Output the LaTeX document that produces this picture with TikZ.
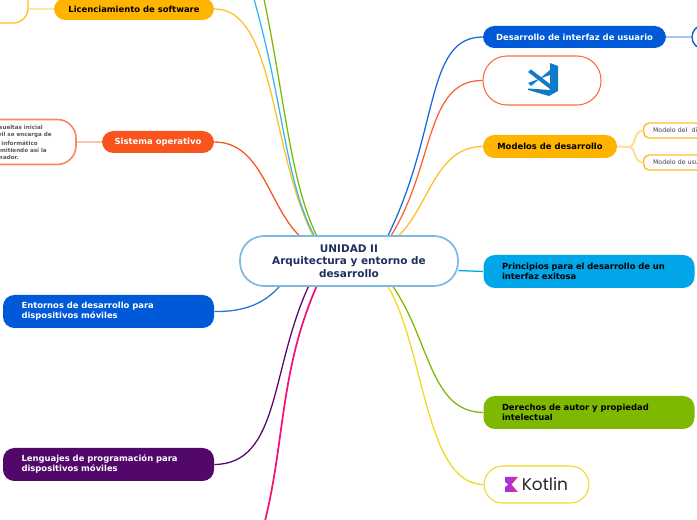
\documentclass[tikz,border=0pt]{standalone}
\usepackage{fontspec}
\setmainfont{DejaVu Sans}
\newfontfamily\kotfont{Poppins}
\definecolor{azul}{HTML}{0059D6}
\definecolor{naranja}{HTML}{FFB400}
\definecolor{rojizo}{HTML}{F9531E}
\definecolor{celeste}{HTML}{00A6E8}
\definecolor{verde}{HTML}{7FB800}
\definecolor{morado}{HTML}{52086B}
\definecolor{rosa}{HTML}{F5107A}
\definecolor{amarillo}{HTML}{F2D91E}
\definecolor{borde}{HTML}{7DB9E3}
\definecolor{tinta}{HTML}{1F2F5F}
\definecolor{vsazul}{HTML}{0E7AC8}
\definecolor{kotvio}{HTML}{9B30E8}
\definecolor{kotros}{HTML}{E8308C}
\tikzset{
 rama/.style={rounded corners=8.5pt, inner sep=0pt, font=\bfseries\fontsize{6.32}{7.5}\selectfont},
 ramados/.style={rama, text width=174*.75pt, inner xsep=18.5*.75pt, minimum height=33*.75pt, align=left},
 hoja/.style={rounded corners=4pt, draw=naranja!85, line width=1.1pt, fill=white, inner sep=0pt, anchor=west, text=black!75, font=\fontsize{4.7}{6}\selectfont},
 lazo/.style={line width=.95pt},
 palido/.style={line width=1.4pt}
}
\begin{document}
\begin{tikzpicture}[x=.75pt,y=-.75pt]
\useasboundingbox (0,0) rectangle (697,520);
\clip (0,0) rectangle (697,520);
% conectores
\coordinate (cyantop) at (254,-1);
\coordinate (greentop) at (264,-1);
\coordinate (pinkend) at (265,521);
\node[minimum width=218*.75pt, minimum height=50*.75pt] (centro) at (349,261) {};
\node[rama, fill=naranja, minimum width=160*.75pt, minimum height=22*.75pt] (licencia) at (134,9) {Licenciamiento de software};
\node[rama, fill=rojizo, text=white, minimum width=112*.75pt, minimum height=22*.75pt] (sistema) at (158,142) {Sistema operativo};
\node[ramados, fill=azul, text=white] (entornos) at (108.5,311.5) {Entornos de desarrollo para\\dispositivos móviles};
\node[ramados, fill=morado, text=white] (lenguajes) at (108.5,464.5) {Lenguajes de programación para\\dispositivos móviles};
\node[rama, fill=azul, text=white, minimum width=183*.75pt, minimum height=22*.75pt] (interfaz) at (574.5,37) {Desarrollo de interfaz de usuario};
\node[rounded corners=18pt, draw=rojizo!85, line width=.8pt, fill=white, minimum width=118*.75pt, minimum height=49*.75pt] (vscode) at (542,80.5) {};
\node[rama, fill=naranja, minimum width=134*.75pt, minimum height=23*.75pt] (modelos) at (550,146.5) {Modelos de desarrollo};
\node[ramados, fill=celeste, text=black] (principios) at (589,271.5) {Principios para el desarrollo de un\\interfaz exitosa};
\node[ramados, fill=verde, text=black] (derechos) at (589,412.5) {Derechos de autor y propiedad\\intelectual};
\node[rounded corners=14pt, draw=amarillo, line width=.8pt, fill=white, minimum width=105*.75pt, minimum height=37*.75pt] (kotlin) at (536.5,484.5) {};
\node[hoja, minimum width=70*.75pt, minimum height=15*.75pt, text width=66*.75pt, align=left, inner xsep=2pt] (diseno) at (643,130.5) {\hspace*{5pt}Modelo del\ \ dis};
\node[hoja, minimum width=70*.75pt, minimum height=15*.75pt, text width=66*.75pt, align=left, inner xsep=2pt] (usuario) at (643,162.5) {\hspace*{5pt}Modelo de usu};
\node[draw=rojizo!70, line width=1.2pt, fill=white, rounded corners=14pt, minimum width=100*.75pt, minimum height=45*.75pt] (texto) at (26,142) {};
\node[draw=naranja!85, line width=1pt, fill=white, rounded corners=11pt, minimum width=56*.75pt, minimum height=40*.75pt] (licnota) at (0,3) {};
\node[draw=azul, line width=1pt, fill=white, circle, minimum size=24*.75pt, inner sep=0pt] (circulo) at (704,37) {};
\draw[lazo, rojizo] (sistema.east) .. controls (262,142) and (268,205) .. (centro.153);
\draw[lazo, naranja!85] (licencia.east) .. controls (275,8) and (270,150) .. (centro.145);
\draw[lazo, celeste!80] (cyantop) .. controls (285,110) and (285,180) .. (centro.144);
\draw[lazo, verde] (greentop) .. controls (285,100) and (290,180) .. (centro.142);
\draw[lazo, azul!90] (interfaz.west) .. controls (425,37) and (440,130) .. (centro.33);
\draw[lazo, rojizo!90] (vscode.west) .. controls (425,80) and (435,165) .. (centro.31);
\draw[lazo, naranja!85] (modelos.west) .. controls (435,147) and (430,205) .. (centro.27);
\draw[lazo, celeste] (principios.west) -- (centro.-5);
\draw[lazo, verde] (derechos.west) .. controls (430,412) and (430,340) .. (centro.-30);
\draw[lazo, amarillo] (kotlin.west) .. controls (425,484) and (425,350) .. (centro.-33);
\draw[lazo, azul!85] (entornos.east) .. controls (245,312) and (265,303) .. (centro.200);
\draw[lazo, morado] (lenguajes.east) .. controls (280,464) and (270,370) .. (centro.212);
\draw[rosa, line width=1.3pt] (pinkend) .. controls (285,440) and (280,370) .. (centro.218);
\draw[palido, rojizo!35] (sistema.west) -- (texto.east);
\draw[palido, naranja!35] (licencia.west) -- (licnota.east |- licencia.west);
\draw[palido, azul!35] (interfaz.east) -- (circulo.west);
\draw[palido, naranja!45] (modelos.east) -- (629,147) .. controls (636,147) and (633,131) .. (diseno.west);
\draw[palido, naranja!45] (629,147) .. controls (636,147) and (633,162) .. (usuario.west);
% nodo central
\node[draw=borde, line width=1.3pt, fill=white, rounded corners=18pt, minimum width=218*.75pt, minimum height=50*.75pt, text=tinta, align=center, font=\bfseries\fontsize{7.85}{9.4}\selectfont] (titulo) at (349,261) {UNIDAD II\\Arquitectura y entorno de\\desarrollo};
% texto cortado
\foreach \xe/\ye/\t in {43/127/o sueltas inicial, 52/135/vil se encarga de, 38/143/a informático, 47/150/rmitiendo así la, 19/157/mador.} {
 \node[anchor=east, inner sep=0pt, text=black!65, font=\bfseries\fontsize{4.2}{5}\selectfont] at (\xe,\ye) {\t};
}
% logos
\fill[vsazul] (550,63) -- (558,66) -- (558,91) -- (549,96) -- (528,90) -- (528,88.5) -- (550,90) -- cycle;
\fill[vsazul] (528,72) -- (531,69.5) -- (550,84) -- (550,89) -- cycle;
\fill[vsazul] (528,83) -- (531,86) -- (550,70) -- (550,75) -- cycle;
\shade[left color=kotvio, right color=kotros] (505,477) -- (518,477) -- (511.5,484.5) -- (518,492) -- (505,492) -- cycle;
\fill[white] (505,482) -- (508,484.5) -- (505,487) -- cycle;
\node[anchor=west, inner sep=0pt, text=black!85, font=\kotfont\fontsize{12.7}{14}\selectfont] at (521.5,484.5) {Kotlin};
\end{tikzpicture}
\end{document}
